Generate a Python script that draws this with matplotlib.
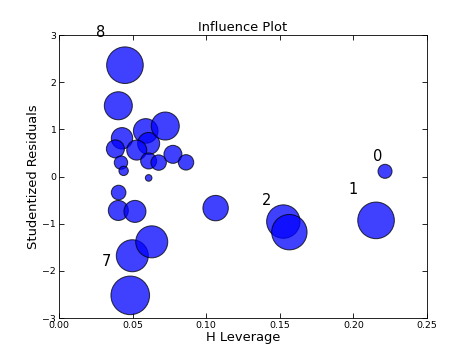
import matplotlib.pyplot as plt
import numpy as np

# leverage (x), studentized residuals (y), bubble radius (influence, px)
leverage = [0.2215, 0.2154, 0.1524, 0.1565, 0.1064, 0.0498, 0.0630, 0.0484,
            0.0448, 0.0403, 0.0428, 0.0383, 0.0589, 0.0609, 0.0722, 0.0528,
            0.0421, 0.0439, 0.0609, 0.0677, 0.0774, 0.0863, 0.0609, 0.0405,
            0.0403, 0.0516]
resid = [0.11, -0.93, -0.955, -1.18, -0.67, -1.68, -1.385, -2.52,
         2.36, 1.50, 0.81, 0.585, 0.966, 0.70, 1.07, 0.56,
         0.295, 0.12, 0.33, 0.295, 0.47, 0.30, -0.03, -0.34,
         -0.72, -0.74]
influence = [7, 18.3, 16.7, 17.7, 12.7, 16, 16, 19.3,
             18.3, 14, 10.7, 9, 12.3, 11, 14, 10,
             6.7, 4.7, 8, 7.7, 9, 7.7, 3.3, 7.3,
             10, 11]
# annotated observations: (index into arrays, label, text offset in points)
labels = [(0, '0', (-7, 14)), (1, '1', (-22, 30)), (2, '2', (-16, 20)),
          (5, '7', (-25, -6)), (8, '8', (-23, 31))]

dpi = 75
fig = plt.figure(figsize=(474 / dpi, 355 / dpi), dpi=dpi)
ax = fig.add_axes([0.1245, 0.1042, 0.7763, 0.7972])

sizes = (2 * np.array(influence) * 72.0 / dpi) ** 2
ax.scatter(leverage, resid, s=sizes, c='b', alpha=0.75,
           edgecolors='k', linewidths=1.0, zorder=2)

for i, lab, off in labels:
    ax.annotate(lab, (leverage[i], resid[i]), xytext=off,
                textcoords='offset points', ha='center', va='center',
                fontsize=14)

ax.set_xlim(0, 0.25)
ax.set_ylim(-3, 3)
ax.set_xticks([0, 0.05, 0.10, 0.15, 0.20, 0.25])
ax.set_xticklabels(['0.00', '0.05', '0.10', '0.15', '0.20', '0.25'])
ax.set_yticks([-3, -2, -1, 0, 1, 2, 3])
ax.set_yticklabels(['\u22123', '\u22122', '\u22121', '0', '1', '2', '3'])
ax.tick_params(direction='in', top=True, right=True, labelsize=9,
               length=5, pad=3)
ax.set_xlabel('H Leverage', fontsize=12.5, labelpad=1)
ax.set_ylabel('Studentized Residuals', fontsize=12.5, labelpad=2)
ax.set_title('Influence Plot', fontsize=12.5, pad=4)

fig.savefig('out.png', dpi=dpi, facecolor='white')
